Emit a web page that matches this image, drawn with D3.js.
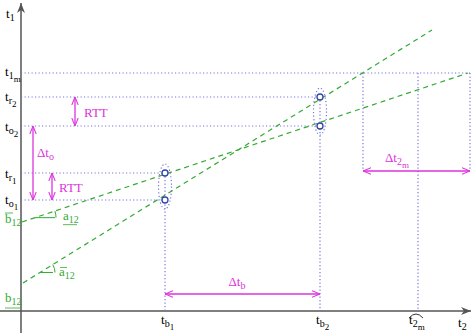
<!DOCTYPE html>
<html>
<head>
<meta charset="utf-8">
<script src="https://cdn.jsdelivr.net/npm/d3@7"></script>
<style>
  body { margin: 0; background: #fff; }
  text { font-family: "Liberation Serif", "Times New Roman", serif; }
</style>
</head>
<body>
<script>
// values in chart units (t2 along x, t1 along y)
const tB = [144, 299];            // t_b1, t_b2
const tO = [111, 185];            // t_o1, t_o2
const tR = [138, 214];            // t_r1, t_r2
const t1m = 238;
const t2mHat = 397;
const t2mSpan = [342, 449];       // delta t_2m
const t2mLevel = 140;
const tbLevel = 17;               // level of the delta t_b arrow
const steepLine = [[2, 28], [411, 281]];   // lower bound b12 / upper slope a12
const flatLine = [[1, 89], [447, 238]];    // upper bound b12 / lower slope a12
const rttX = [31, 54];            // x of the two RTT arrows
const dtoX = 12;

const W = 474, H = 333;
const dotCol = '#7777dd', mag = '#dd33dd', green = '#33aa33', axisCol = '#555';

let svg = d3.select('body').append('svg')
    .attr('width', W).attr('height', H);

let x = d3.scaleLinear().domain([0, 450]).range([21, 471]);
let y = d3.scaleLinear().domain([0, 308]).range([311, 3]);

let defs = svg.append('defs');
function arrowMarker(id, color, orient) {
    defs.append('marker')
        .attr('id', id)
        .attr('viewBox', '0 0 10 10')
        .attr('refX', 10).attr('refY', 5)
        .attr('markerWidth', 8).attr('markerHeight', 8)
        .attr('markerUnits', 'userSpaceOnUse')
        .attr('orient', orient)
        .append('path')
        .attr('d', 'M0,1 L10,5 L0,9')
        .attr('fill', 'none')
        .attr('stroke', color)
        .attr('stroke-width', 1.3);
}
arrowMarker('mag', mag, 'auto-start-reverse');
defs.append('marker')
    .attr('id', 'ax')
    .attr('viewBox', '0 0 10 10')
    .attr('refX', 10).attr('refY', 5)
    .attr('markerWidth', 10).attr('markerHeight', 10)
    .attr('markerUnits', 'userSpaceOnUse')
    .attr('orient', 'auto')
    .append('path')
    .attr('d', 'M0,1 L10,5 L0,9 L3,5 Z')
    .attr('fill', axisCol);

// axes
svg.append('line')
    .attr('x1', x(0)).attr('y1', H).attr('x2', x(0)).attr('y2', y(308))
    .attr('stroke', axisCol).attr('stroke-width', 1.5)
    .attr('marker-end', 'url(#ax)');
svg.append('line')
    .attr('x1', 0).attr('y1', y(0)).attr('x2', x(450)).attr('y2', y(0))
    .attr('stroke', axisCol).attr('stroke-width', 1.5)
    .attr('marker-end', 'url(#ax)');

// dotted guides
function dotted(x1, y1, x2, y2) {
    svg.append('line')
        .attr('x1', x(x1)).attr('y1', y(y1)).attr('x2', x(x2)).attr('y2', y(y2))
        .attr('stroke', dotCol).attr('stroke-width', 1.2)
        .attr('stroke-dasharray', '1.2,2.3');
}
dotted(0, t1m, t2mSpan[1], t1m);
dotted(0, tR[1], tB[1], tR[1]);
dotted(0, tO[1], tB[1], tO[1]);
dotted(0, tR[0], tB[0], tR[0]);
dotted(0, tO[0], tB[0], tO[0]);
dotted(tB[0], tR[0], tB[0], 0);
dotted(tB[1], tR[1], tB[1], 0);
dotted(t2mSpan[0], t1m, t2mSpan[0], t2mLevel);
dotted(t2mSpan[1], t1m, t2mSpan[1], t2mLevel);
dotted(t2mHat, t1m, t2mHat, 0);

// ellipses around the measured pairs
[0, 1].forEach(i => {
    let cy = (y(tR[i]) + y(tO[i])) / 2;
    let ry = (y(tO[i]) - y(tR[i])) / 2 + 9;
    svg.append('ellipse')
        .attr('cx', x(tB[i])).attr('cy', cy)
        .attr('rx', 6.5).attr('ry', ry)
        .attr('fill', 'none').attr('stroke', dotCol).attr('stroke-width', 1.2)
        .attr('stroke-dasharray', '1.2,2.3');
});

// bound lines
let line = d3.line().x(d => x(d[0])).y(d => y(d[1]));
[steepLine, flatLine].forEach(l => {
    svg.append('path').datum(l)
        .attr('d', line)
        .attr('fill', 'none').attr('stroke', green).attr('stroke-width', 1.2)
        .attr('stroke-dasharray', '5,4');
});

// points
let pts = [[tB[0], tR[0]], [tB[0], tO[0]], [tB[1], tR[1]], [tB[1], tO[1]]];
svg.selectAll('circle.pt').data(pts).enter().append('circle')
    .attr('class', 'pt')
    .attr('cx', d => x(d[0])).attr('cy', d => y(d[1]))
    .attr('r', 3)
    .attr('fill', '#fff').attr('stroke', '#3344aa').attr('stroke-width', 1.3);

// magenta double arrows
function dblArrow(x1, y1, x2, y2) {
    svg.append('line')
        .attr('x1', x(x1)).attr('y1', y(y1)).attr('x2', x(x2)).attr('y2', y(y2))
        .attr('stroke', mag).attr('stroke-width', 1.3)
        .attr('marker-start', 'url(#mag)').attr('marker-end', 'url(#mag)');
}
dblArrow(rttX[1], tR[1], rttX[1], tO[1]);
dblArrow(rttX[0], tR[0], rttX[0], tO[0]);
dblArrow(dtoX, tO[1], dtoX, tO[0]);
dblArrow(tB[0], tbLevel, tB[1], tbLevel);
dblArrow(t2mSpan[0], t2mLevel, t2mSpan[1], t2mLevel);

// text with sub / sub-sub parts: [text, level]
const sizes = [13, 10, 9];
const shifts = [0, 3, 3];
function label(px, py, parts, color, anchor) {
    let t = svg.append('text')
        .attr('x', px).attr('y', py)
        .attr('fill', color || '#000')
        .attr('text-anchor', anchor || 'start');
    let level = 0;
    parts.forEach(p => {
        let dy = 0;
        for (let k = level + 1; k <= p[1]; k++) dy += shifts[k];
        for (let k = level; k > p[1]; k--) dy -= shifts[k];
        t.append('tspan')
            .attr('dy', dy)
            .attr('font-size', sizes[p[1]])
            .text(p[0]);
        level = p[1];
    });
    return t;
}

// y axis labels
label(6, 18, [['t', 0], ['1', 1]]);
label(5, y(t1m) + 3, [['t', 0], ['1', 1], ['m', 2]]);
label(5, y(tR[1]) + 4, [['t', 0], ['r', 1], ['2', 2]]);
label(5, y(tO[1]) + 5, [['t', 0], ['o', 1], ['2', 2]]);
label(5, y(tR[0]) + 5, [['t', 0], ['r', 1], ['1', 2]]);
label(5, y(tO[0]) + 4, [['t', 0], ['o', 1], ['1', 2]]);

// x axis labels
label(x(tB[0]) - 4, 324, [['t', 0], ['b', 1], ['1', 2]]);
label(x(tB[1]) - 4, 324, [['t', 0], ['b', 1], ['2', 2]]);
label(x(t2mHat) - 9, 324, [['t', 0], ['2', 1], ['m', 2]]);
svg.append('path')
    .attr('d', `M${x(t2mHat) - 9},318 Q${x(t2mHat) - 2},310 ${x(t2mHat) + 5},318`)
    .attr('fill', 'none').attr('stroke', '#000').attr('stroke-width', 0.8);
label(458, 327, [['t', 0], ['2', 1]]);

// magenta labels
label(x(rttX[1]) + 9, (y(tR[1]) + y(tO[1])) / 2 + 5, [['RTT', 0]], mag);
label(x(rttX[0]) + 7, (y(tR[0]) + y(tO[0])) / 2 + 5, [['RTT', 0]], mag);
label(x(dtoX) + 4, 157, [['\u0394t', 0], ['o', 1]], mag);
label((x(tB[0]) + x(tB[1])) / 2 - 14, y(tbLevel) - 8, [['\u0394t', 0], ['b', 1]], mag);
label(x(t2mSpan[0]) + 22, y(t2mLevel) - 9, [['\u0394t', 0], ['2', 1], ['m', 2]], mag);

// green labels: intercepts and slopes
let bTop = label(5, y(flatLine[0][1]) + 1, [['b', 0], ['12', 1]], green);
svg.append('line').attr('x1', 5).attr('x2', 13)
    .attr('y1', y(flatLine[0][1]) - 9).attr('y2', y(flatLine[0][1]) - 9)
    .attr('stroke', green).attr('stroke-width', 0.8);
label(5, 302, [['b', 0], ['12', 1]], green);
svg.append('line').attr('x1', 5).attr('x2', 21)
    .attr('y1', 308).attr('y2', 308)
    .attr('stroke', green).attr('stroke-width', 0.8);

function slopeMark(l, x0, len, r) {
    let s = (l[1][1] - l[0][1]) / (l[1][0] - l[0][0]);
    let y0 = l[0][1] + s * (x0 - l[0][0]);
    let px = x(x0), py = y(y0);
    let ang = Math.atan(s * (y(0) - y(1)) / (x(1) - x(0)));
    svg.append('line')
        .attr('x1', px).attr('y1', py).attr('x2', px + len).attr('y2', py)
        .attr('stroke', green).attr('stroke-width', 1);
    svg.append('path')
        .attr('d', `M${px + r},${py} A${r},${r} 0 0 0 ${px + r * Math.cos(ang)},${py - r * Math.sin(ang)}`)
        .attr('fill', 'none').attr('stroke', green).attr('stroke-width', 1);
    return [px, py];
}
let p1 = slopeMark(flatLine, 14, 20, 21);
label(p1[0] + 28, p1[1] + 2, [['a', 0], ['12', 1]], green);
svg.append('line').attr('x1', p1[0] + 28).attr('x2', p1[0] + 42)
    .attr('y1', p1[1] + 7).attr('y2', p1[1] + 7)
    .attr('stroke', green).attr('stroke-width', 0.8);
let p2 = slopeMark(steepLine, 19, 13, 15);
label(p2[0] + 19, p2[1] + 4, [['a', 0], ['12', 1]], green);
svg.append('line').attr('x1', p2[0] + 20).attr('x2', p2[0] + 27)
    .attr('y1', p2[1] - 5).attr('y2', p2[1] - 5)
    .attr('stroke', green).attr('stroke-width', 0.8);
</script>
</body>
</html>
